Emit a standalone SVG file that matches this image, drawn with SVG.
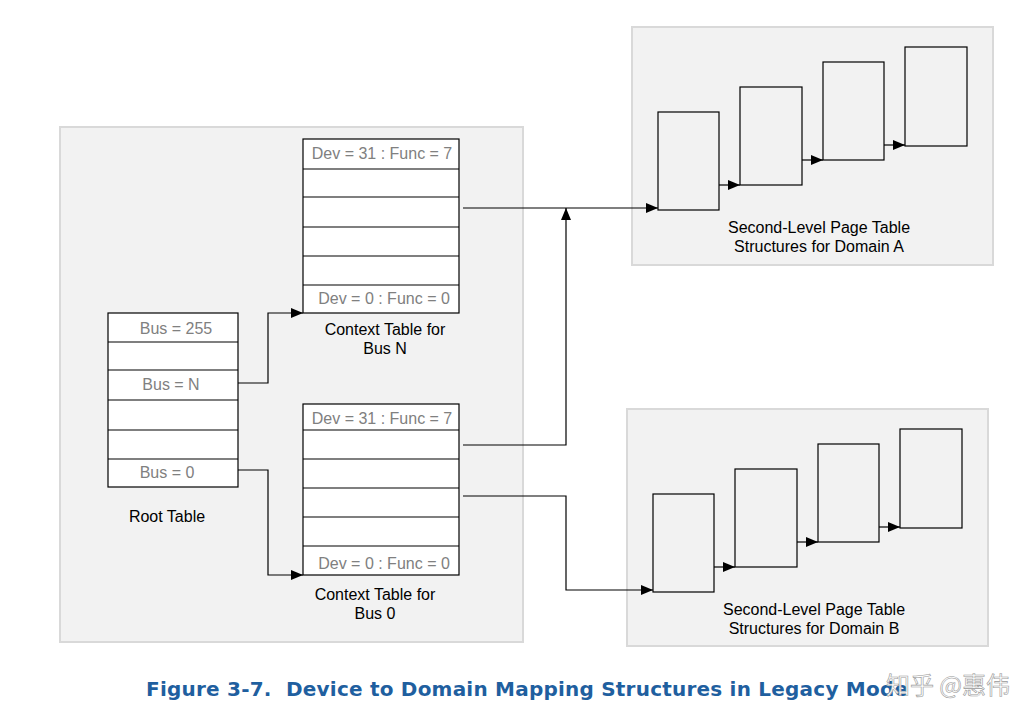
<svg xmlns="http://www.w3.org/2000/svg" width="1036" height="725" viewBox="0 0 1036 725">
<style>
.panel{fill:#f2f2f2;stroke:#d9d9d9;stroke-width:2}
.box{fill:#fff;stroke:#000;stroke-width:1.2}
.pg{fill:none;stroke:#000;stroke-width:1.2}
.ln{fill:none;stroke:#000;stroke-width:1.2}
.cell{font-family:"Liberation Sans",Arial,sans-serif;font-size:16px;fill:#808080;text-anchor:middle}
.lbl{font-family:"Liberation Sans",Arial,sans-serif;font-size:16px;fill:#000;text-anchor:middle}
</style>
<defs><marker id="ah" markerWidth="12" markerHeight="10" refX="12" refY="5" orient="auto" markerUnits="userSpaceOnUse"><path d="M0,0L12,5L0,10z" fill="#000"/></marker></defs>
<rect width="1036" height="725" fill="#fff"/>
<rect class="panel" x="60" y="127" width="463" height="515"/>
<rect class="panel" x="632" y="27" width="361" height="238"/>
<rect class="panel" x="627" y="409" width="361" height="237"/>
<g id="root">
<rect class="box" x="108" y="313" width="130" height="174"/>
<path class="ln" d="M108,342H238M108,370H238M108,400H238M108,430H238M108,459H238"/>
<text class="cell" x="176" y="334">Bus = 255</text>
<text class="cell" x="171" y="390">Bus = N</text>
<text class="cell" x="167" y="478">Bus = 0</text>
<text class="lbl" x="167" y="522">Root Table</text>
</g>
<g id="ctxN">
<rect class="box" x="303" y="139" width="156" height="174"/>
<path class="ln" d="M303,169H459M303,197H459M303,227H459M303,256H459M303,285H459"/>
<text class="cell" x="382" y="159">Dev = 31 : Func = 7</text>
<text class="cell" x="384" y="304">Dev = 0 : Func = 0</text>
<text class="lbl" x="385" y="335">Context Table for</text>
<text class="lbl" x="385" y="354">Bus N</text>
</g>
<g id="ctx0">
<rect class="box" x="303" y="404" width="156" height="171"/>
<path class="ln" d="M303,430H459M303,459H459M303,488H459M303,517H459M303,546H459"/>
<text class="cell" x="382" y="424">Dev = 31 : Func = 7</text>
<text class="cell" x="384" y="569">Dev = 0 : Func = 0</text>
<text class="lbl" x="375" y="600">Context Table for</text>
<text class="lbl" x="375" y="619">Bus 0</text>
</g>
<g id="domainA">
<rect class="pg" x="658" y="112" width="61" height="98"/>
<rect class="pg" x="740" y="87" width="62" height="98"/>
<rect class="pg" x="823" y="62" width="61" height="98"/>
<rect class="pg" x="905" y="47" width="62" height="99"/>
<text class="lbl" x="819" y="233">Second-Level Page Table</text>
<text class="lbl" x="819" y="252">Structures for Domain A</text>
</g>
<g id="domainB">
<rect class="pg" x="653" y="494" width="61" height="98"/>
<rect class="pg" x="735" y="469" width="62" height="98"/>
<rect class="pg" x="818" y="444" width="61" height="98"/>
<rect class="pg" x="900" y="429" width="62" height="99"/>
<text class="lbl" x="814" y="615">Second-Level Page Table</text>
<text class="lbl" x="814" y="634">Structures for Domain B</text>
</g>
<g id="connectors" marker-end="url(#ah)">
<path class="ln" d="M238,383H268V313H303"/>
<path class="ln" d="M238,470H268V575H303"/>
<path class="ln" d="M463,208H658"/>
<path class="ln" d="M463,445H566V208"/>
<path class="ln" d="M463,496H566V590H653"/>
<path class="ln" d="M719,185H740"/>
<path class="ln" d="M802,160H823"/>
<path class="ln" d="M884,145H905"/>
<path class="ln" d="M714,567H735"/>
<path class="ln" d="M797,542H818"/>
<path class="ln" d="M879,527H900"/>
</g>
<text x="146" y="696" xml:space="preserve" style="white-space:pre" font-family="'DejaVu Sans',Verdana,sans-serif" font-weight="bold" font-size="20" fill="#1f5f9f" textLength="762" lengthAdjust="spacing">Figure 3-7.  Device to Domain Mapping Structures in Legacy Mode</text>
<text x="1010" y="694" text-anchor="end" font-family="'Noto Sans CJK SC',sans-serif" font-size="24" fill="#ffffff" stroke="#999" stroke-width="0.6">知乎 @惠伟</text>
</svg>
